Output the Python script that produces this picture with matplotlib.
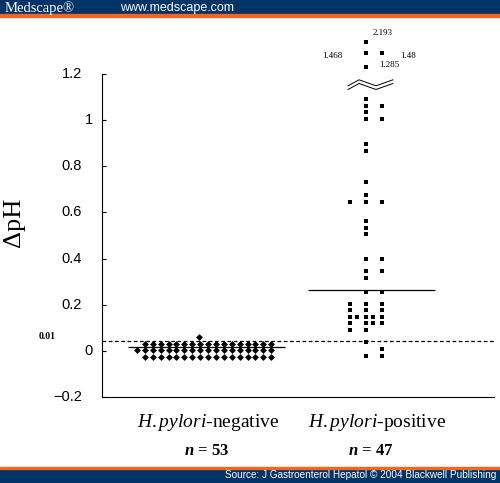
import matplotlib
matplotlib.use("Agg")
import matplotlib.pyplot as plt
from matplotlib.patches import Rectangle
import numpy as np

plt.rcParams['mathtext.fontset'] = 'custom'
plt.rcParams['mathtext.rm'] = 'Liberation Serif'
plt.rcParams['mathtext.it'] = 'Liberation Serif:italic'
plt.rcParams['mathtext.bf'] = 'Liberation Serif:bold:italic'

# H. pylori-negative: delta pH levels and how many patients sit on each
neg_levels = [0.06, 0.03, 0.005, -0.025]
neg_counts = [1, 17, 18, 17]
neg_mean = 0.016

# H. pylori-positive: values below the axis break and their column in the swarm
pos_center = [1.092, 1.062, 1.036, 1.007, 0.897, 0.867, 0.730, 0.675, 0.646, 0.565,
              0.534, 0.507, 0.397, 0.345, 0.314, 0.256, 0.204, 0.178, 0.149, 0.120,
              0.091, 0.038, -0.022]
pos_right = [1.062, 1.007, 0.646, 0.397, 0.345, 0.256, 0.204, 0.178, 0.149, 0.120,
             0.007, -0.022]
pos_left = [0.646, 0.204, 0.178, 0.149, 0.120, 0.091]
pos_midleft = [0.149]
pos_midright = [0.149, 0.120]
pos_mean = 0.264

# values above the break, the height they are drawn at, and their column
top_values = [2.193, 1.468, 1.285, 1.48]
top_heights = [1.34, 1.29, 1.23, 1.29]
top_cols = ['center', 'center', 'center', 'right']

cutoff = 0.043
cutoff_label = '0.01'
yticks = [-0.2, 0, 0.2, 0.4, 0.6, 0.8, 1, 1.2]
ytick_labels = ['\u22120.2', '0', '0.2', '0.4', '0.6', '0.8', '1', '1.2']
groups = [r'$\mathit{H.pylori}$-negative', r'$\mathit{H.pylori}$-positive']
n_labels = [r'$\mathbf{n}$ = 53', r'$\mathbf{n}$ = 47']

navy = '#003366'
orange = '#f26522'

fig = plt.figure(figsize=(5, 4.83), dpi=100)
ax = fig.add_axes([0.204, 0.178, 0.784, 0.6687])

# negative group, diamonds in rows
step = 0.05
for lvl, cnt in zip(neg_levels, neg_counts):
    if cnt == 1:
        xs = [1 - 0.06]
    elif cnt == 18:
        xs = [1 - 0.45] + [1 + (i - 8) * step for i in range(17)]
    else:
        xs = [1 + (i - (cnt - 1) / 2) * step for i in range(cnt)]
    ax.plot(xs, [lvl] * len(xs), 'D', color='black', ms=3.5, mew=0, clip_on=False)

# positive group, squares in columns
offsets = {'left': -0.1, 'midleft': -0.057, 'center': 0.0, 'midright': 0.044, 'right': 0.1}
cols = {'left': pos_left, 'midleft': pos_midleft, 'center': pos_center,
        'midright': pos_midright, 'right': pos_right}
for name, vals in cols.items():
    ax.plot([2 + offsets[name]] * len(vals), vals, 's', color='black', ms=3.4, mew=0,
            clip_on=False)
for h, c in zip(top_heights, top_cols):
    ax.plot(2 + offsets[c], h, 's', color='black', ms=3.4, mew=0, clip_on=False)

# labels for the points above the break
lab_pos = [(2.108, 1.378), (1.785, 1.279), (2.146, 1.24), (2.266, 1.279)]
for v, (lx, ly) in zip(top_values, lab_pos):
    ax.text(lx, ly, f'{v:g}', fontsize=6.5, family='Liberation Serif', ha='center',
            va='center', clip_on=False)

# axis break zigzag
bx = np.array([-0.114, -0.044, 0.063, 0.17]) + 2
ax.plot(bx, [1.149, 1.175, 1.149, 1.175], color='black', lw=0.7, clip_on=False)
ax.plot(bx, [1.133, 1.159, 1.133, 1.159], color='black', lw=0.7, clip_on=False)

# means and cutoff
ax.hlines(neg_mean, 0.494, 1.487, color='black', lw=0.9)
ax.hlines(pos_mean, 1.633, 2.437, color='black', lw=0.9)
ax.axhline(cutoff, color='black', lw=0.9, ls=(0, (3, 2)))
ax.text(-0.14, cutoff + 0.018, cutoff_label, transform=ax.get_yaxis_transform(),
        fontsize=7, fontweight='bold', family='Liberation Serif', ha='center', va='center')

ax.set_xlim(0.329, 2.81)
ax.set_ylim(-0.2, 1.2)
ax.set_yticks(yticks)
ax.set_yticklabels([])
for t, lab in zip(yticks, ytick_labels):
    xa = -0.023 if len(lab) == 1 else -0.051
    ax.text(xa, t, lab, transform=ax.get_yaxis_transform(), family='Liberation Sans',
            fontsize=10.5, ha='right', va='center')
ax.tick_params(axis='y', direction='in', length=3)
ax.set_xticks([])
for s in ['top', 'right']:
    ax.spines[s].set_visible(False)
ax.text(-0.225, 0.54, '\u0394pH', transform=ax.transAxes, rotation=90,
        family='Liberation Serif', fontsize=19, ha='center', va='center')

for x, g in zip([1.0, 2.07], groups):
    ax.text(x, -0.08, g, transform=ax.get_xaxis_transform(), fontsize=14,
            family='Liberation Serif', ha='center', va='center')
for x, n in zip([0.99, 2.03], n_labels):
    ax.text(x, -0.167, n, transform=ax.get_xaxis_transform(), fontsize=12,
            family='Liberation Serif', fontweight='bold', ha='center', va='center')

# medscape header and footer bars
fig.patches.append(Rectangle((0, 0.969), 1, 0.031, transform=fig.transFigure, color=navy))
fig.patches.append(Rectangle((0, 0.965), 1, 0.005, transform=fig.transFigure, color=orange))
fig.patches.append(Rectangle((0, 0), 1, 0.029, transform=fig.transFigure, color=navy))
fig.patches.append(Rectangle((0, 0.029), 1, 0.005, transform=fig.transFigure, color=orange))
fig.text(0.01, 0.984, 'Medscape\u00ae', color='white', fontsize=10.5,
         family='Liberation Serif', va='center')
fig.text(0.24, 0.984, 'www.medscape.com', color='white', fontsize=9,
         family='Liberation Sans', va='center')
fig.text(0.992, 0.0165, 'Source: J Gastroenterol Hepatol \u00a9 2004 Blackwell Publishing',
         color='white', fontsize=7.2, family='Liberation Sans', ha='right', va='center')

fig.savefig('out.png', dpi=100)
